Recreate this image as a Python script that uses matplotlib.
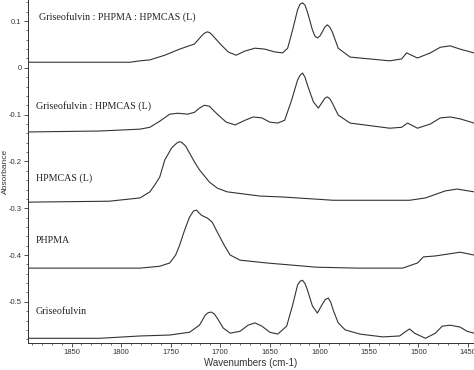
import matplotlib
matplotlib.use("Agg")
import matplotlib.pyplot as plt
from matplotlib.ticker import MultipleLocator

plt.rcParams['axes.unicode_minus'] = False

# spectra: wavenumber (cm-1) and absorbance (offset traces)
wn_mix3 = [1894, 1791, 1781, 1771, 1756, 1741, 1726, 1719, 1716, 1713, 1710.5, 1708, 1700,
           1692, 1684, 1675, 1665, 1655, 1645, 1637, 1632, 1627, 1622, 1619.5, 1617, 1614.5,
           1612, 1607, 1604.5, 1602, 1599.5, 1597, 1594.5, 1592, 1589.5, 1587, 1581, 1569,
           1529, 1517, 1512, 1501, 1488, 1478, 1468, 1458, 1444]
ab_mix3 = [0.012, 0.012, 0.015, 0.017, 0.027, 0.040, 0.051, 0.068, 0.074, 0.077, 0.075, 0.070,
           0.051, 0.034, 0.027, 0.036, 0.042, 0.040, 0.034, 0.032, 0.042, 0.081, 0.124, 0.136,
           0.139, 0.134, 0.119, 0.081, 0.068, 0.064, 0.068, 0.077, 0.087, 0.092, 0.087, 0.077,
           0.042, 0.023, 0.015, 0.019, 0.032, 0.021, 0.032, 0.044, 0.047, 0.040, 0.032]

wn_mix2 = [1894, 1822, 1781, 1771, 1761, 1751, 1743, 1733, 1726, 1721, 1716, 1711, 1703,
           1694, 1685, 1675, 1667, 1658, 1650, 1642, 1635, 1628, 1622, 1619.5, 1617, 1614.5,
           1612, 1606, 1601, 1597, 1594.5, 1592, 1589.5, 1587, 1581, 1569, 1529, 1517, 1511,
           1501, 1488, 1478, 1468, 1458, 1444]
ab_mix2 = [-0.137, -0.135, -0.131, -0.127, -0.114, -0.099, -0.097, -0.099, -0.095, -0.086,
           -0.080, -0.082, -0.099, -0.116, -0.122, -0.112, -0.105, -0.107, -0.116, -0.118,
           -0.112, -0.069, -0.026, -0.016, -0.011, -0.020, -0.037, -0.073, -0.086, -0.073,
           -0.065, -0.062, -0.066, -0.075, -0.101, -0.118, -0.129, -0.127, -0.118, -0.129,
           -0.120, -0.107, -0.105, -0.109, -0.118]

wn_hpmcas = [1894, 1812, 1781, 1771, 1766, 1761, 1756, 1749, 1744, 1741.5, 1739, 1735, 1731,
             1726, 1721, 1711, 1703, 1693, 1660, 1637, 1586, 1509, 1493, 1485, 1473, 1461,
             1444]
ab_hpmcas = [-0.287, -0.285, -0.278, -0.265, -0.250, -0.233, -0.197, -0.171, -0.161, -0.158,
             -0.159, -0.167, -0.182, -0.201, -0.218, -0.244, -0.257, -0.265, -0.274, -0.276,
             -0.283, -0.283, -0.278, -0.272, -0.263, -0.259, -0.265]

wn_phpma = [1894, 1781, 1761, 1751, 1745, 1741, 1736, 1731, 1727, 1724, 1719, 1713, 1708,
            1703, 1696, 1690, 1680, 1653, 1603, 1562, 1516, 1501, 1495, 1483, 1458, 1444]
ab_phpma = [-0.428, -0.428, -0.424, -0.417, -0.400, -0.379, -0.347, -0.319, -0.306, -0.304,
            -0.315, -0.321, -0.330, -0.351, -0.379, -0.400, -0.411, -0.417, -0.426, -0.428,
            -0.428, -0.417, -0.404, -0.402, -0.394, -0.400]

wn_gris = [1894, 1822, 1781, 1751, 1731, 1721, 1715, 1712, 1709, 1706, 1703, 1697, 1690,
           1680, 1672, 1665, 1658, 1650, 1642, 1633, 1627, 1622, 1619.5, 1617, 1614.5, 1612,
           1607, 1602, 1597, 1594, 1591, 1588.5, 1586, 1581, 1574, 1559, 1536, 1519, 1514,
           1509, 1504, 1493, 1483, 1476, 1468, 1458, 1451, 1444]
ab_gris = [-0.578, -0.578, -0.573, -0.571, -0.565, -0.550, -0.528, -0.523, -0.522, -0.526,
           -0.535, -0.556, -0.567, -0.563, -0.550, -0.545, -0.552, -0.565, -0.569, -0.552,
           -0.507, -0.464, -0.456, -0.454, -0.461, -0.475, -0.509, -0.524, -0.505, -0.495,
           -0.492, -0.501, -0.518, -0.545, -0.560, -0.569, -0.575, -0.573, -0.565, -0.558,
           -0.567, -0.578, -0.567, -0.552, -0.550, -0.554, -0.563, -0.567]

names = ["Griseofulvin : PHPMA : HPMCAS (L)", "Griseofulvin : HPMCAS (L)",
         "HPMCAS (L)", "PHPMA", "Griseofulvin"]
name_y = [0.108, -0.082, -0.235, -0.370, -0.520]

fig = plt.figure(figsize=(4.74, 3.70), dpi=100)
ax = fig.add_axes([0.059, 0.073, 0.941, 0.927])

for wn, ab in [(wn_mix3, ab_mix3), (wn_mix2, ab_mix2), (wn_hpmcas, ab_hpmcas),
               (wn_phpma, ab_phpma), (wn_gris, ab_gris)]:
    ax.plot(wn, ab, color='#333333', lw=0.8)

for i, name in enumerate(names):
    x0 = 1883 if i == 0 else 1886
    ax.text(x0, name_y[i], name, fontsize=7.2, family='Liberation Serif',
            color='#222222', va='center', ha='left')

ax.set_xlim(1894, 1444)
ax.set_ylim(-0.588, 0.145)
ax.xaxis.set_minor_locator(MultipleLocator(10))
ax.yaxis.set_minor_locator(MultipleLocator(0.02))
ax.set_xticks([1850, 1800, 1750, 1700, 1650, 1600, 1550, 1500, 1450])
ax.set_yticks([0.1, 0, -0.1, -0.2, -0.3, -0.4, -0.5])
ax.set_yticklabels(["0.1", "0", "-0.1", "-0.2", "-0.3", "-0.4", "-0.5"])

tickfont = 'Liberation Sans'
for lab in ax.get_xticklabels() + ax.get_yticklabels():
    lab.set_family(tickfont)
    lab.set_fontsize(5.5)
    lab.set_color('#333333')
ax.tick_params(which='major', length=3, width=0.6, colors='#333333', pad=1.5)
ax.tick_params(which='minor', length=1.5, width=0.5, colors='#333333')

ax.set_xlabel("Wavenumbers (cm-1)", fontsize=7, family=tickfont, color='#333333', labelpad=1)
ax.set_ylabel("Absorbance", fontsize=6, family=tickfont, color='#333333', va='center')
ax.yaxis.set_label_coords(-0.051, 0.5)

for s in ['top', 'right']:
    ax.spines[s].set_visible(False)
for s in ['left', 'bottom']:
    ax.spines[s].set_color('#333333')
    ax.spines[s].set_linewidth(0.7)

fig.savefig("out.png", dpi=100)
